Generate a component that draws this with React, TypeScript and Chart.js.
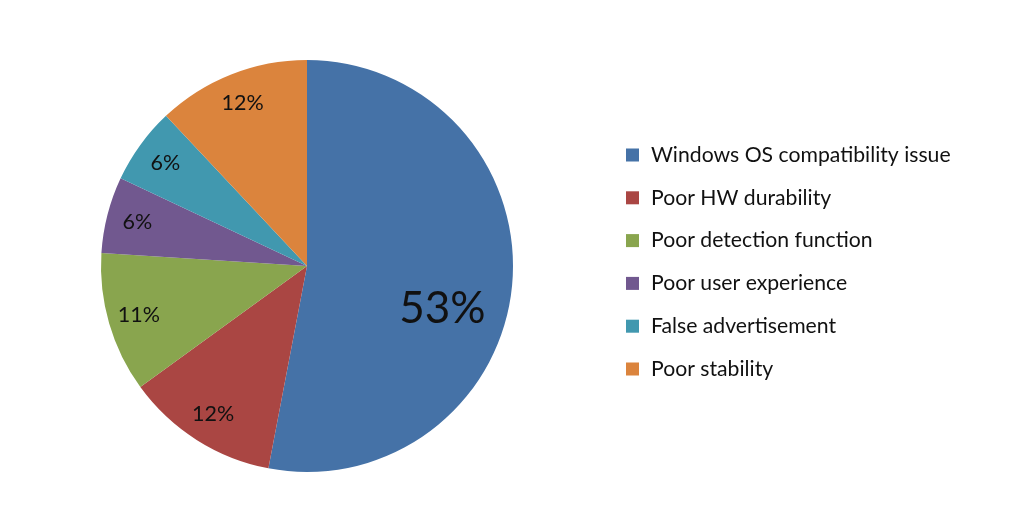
import React, { useEffect, useRef } from "react";
import { Chart, registerables } from "chart.js";

Chart.register(...registerables);

const categories = [
  "Windows OS compatibility issue",
  "Poor HW durability",
  "Poor detection function",
  "Poor user experience",
  "False advertisement",
  "Poor stability",
];
const values = [53, 12, 11, 6, 6, 12];
const colors = ["#4572A7", "#AA4643", "#89A54E", "#71588F", "#4198AF", "#DB843D"];

const FONT = "Lato, 'Open Sans', sans-serif";

const labelPlugin = {
  id: "sliceLabels",
  afterDatasetsDraw(chart: any) {
    const ctx = chart.ctx;
    const meta = chart.getDatasetMeta(0);
    const total = values.reduce((a, b) => a + b, 0);
    ctx.save();
    ctx.fillStyle = "#111";
    ctx.textAlign = "center";
    ctx.textBaseline = "middle";
    meta.data.forEach((arc: any, i: number) => {
      const { x, y, startAngle, endAngle, outerRadius } = arc.getProps(
        ["x", "y", "startAngle", "endAngle", "outerRadius"],
        true
      );
      const mid = (startAngle + endAngle) / 2;
      const pct = Math.round((values[i] / total) * 100);
      const big = pct > 30;
      const frac = big ? 0.66 : 0.85;
      let lx = x + Math.cos(mid) * outerRadius * frac;
      let ly = y + Math.sin(mid) * outerRadius * frac;
      if (big) ly += 30;
      ctx.font = `${big ? 44 : 21.5}px ${FONT}`;
      ctx.fillText(pct + "%", lx, ly);
    });
    ctx.restore();
  },
};

const legendPlugin = {
  id: "customLegend",
  afterDraw(chart: any) {
    const ctx = chart.ctx;
    ctx.save();
    ctx.font = `21.2px ${FONT}`;
    ctx.textBaseline = "middle";
    ctx.textAlign = "left";
    const x0 = 626;
    const y0 = 155;
    const step = 42.8;
    categories.forEach((c, i) => {
      const cy = y0 + i * step;
      ctx.fillStyle = colors[i];
      ctx.fillRect(x0, cy - 6.5, 13, 13);
      ctx.fillStyle = "#111";
      ctx.fillText(c, x0 + 25, cy);
    });
    ctx.restore();
  },
};

export default function App() {
  const ref = useRef<HTMLCanvasElement>(null);
  useEffect(() => {
    document.body.style.margin = "0";
    const chart = new Chart(ref.current!, {
      type: "pie",
      data: {
        labels: categories,
        datasets: [
          {
            data: values,
            backgroundColor: colors,
            borderWidth: 0,
          },
        ],
      },
      options: {
        animation: false,
        responsive: false,
        maintainAspectRatio: false,
        layout: { padding: { left: 101, top: 60, right: 511, bottom: 60 } },
        plugins: {
          legend: { display: false },
          tooltip: { enabled: false },
        },
      },
      plugins: [labelPlugin, legendPlugin],
    });
    return () => chart.destroy();
  }, []);
  return (
    <div style={{ width: 1024, height: 532, background: "#fff" }}>
      <canvas ref={ref} width={1024} height={532} style={{ display: "block" }} />
    </div>
  );
}
